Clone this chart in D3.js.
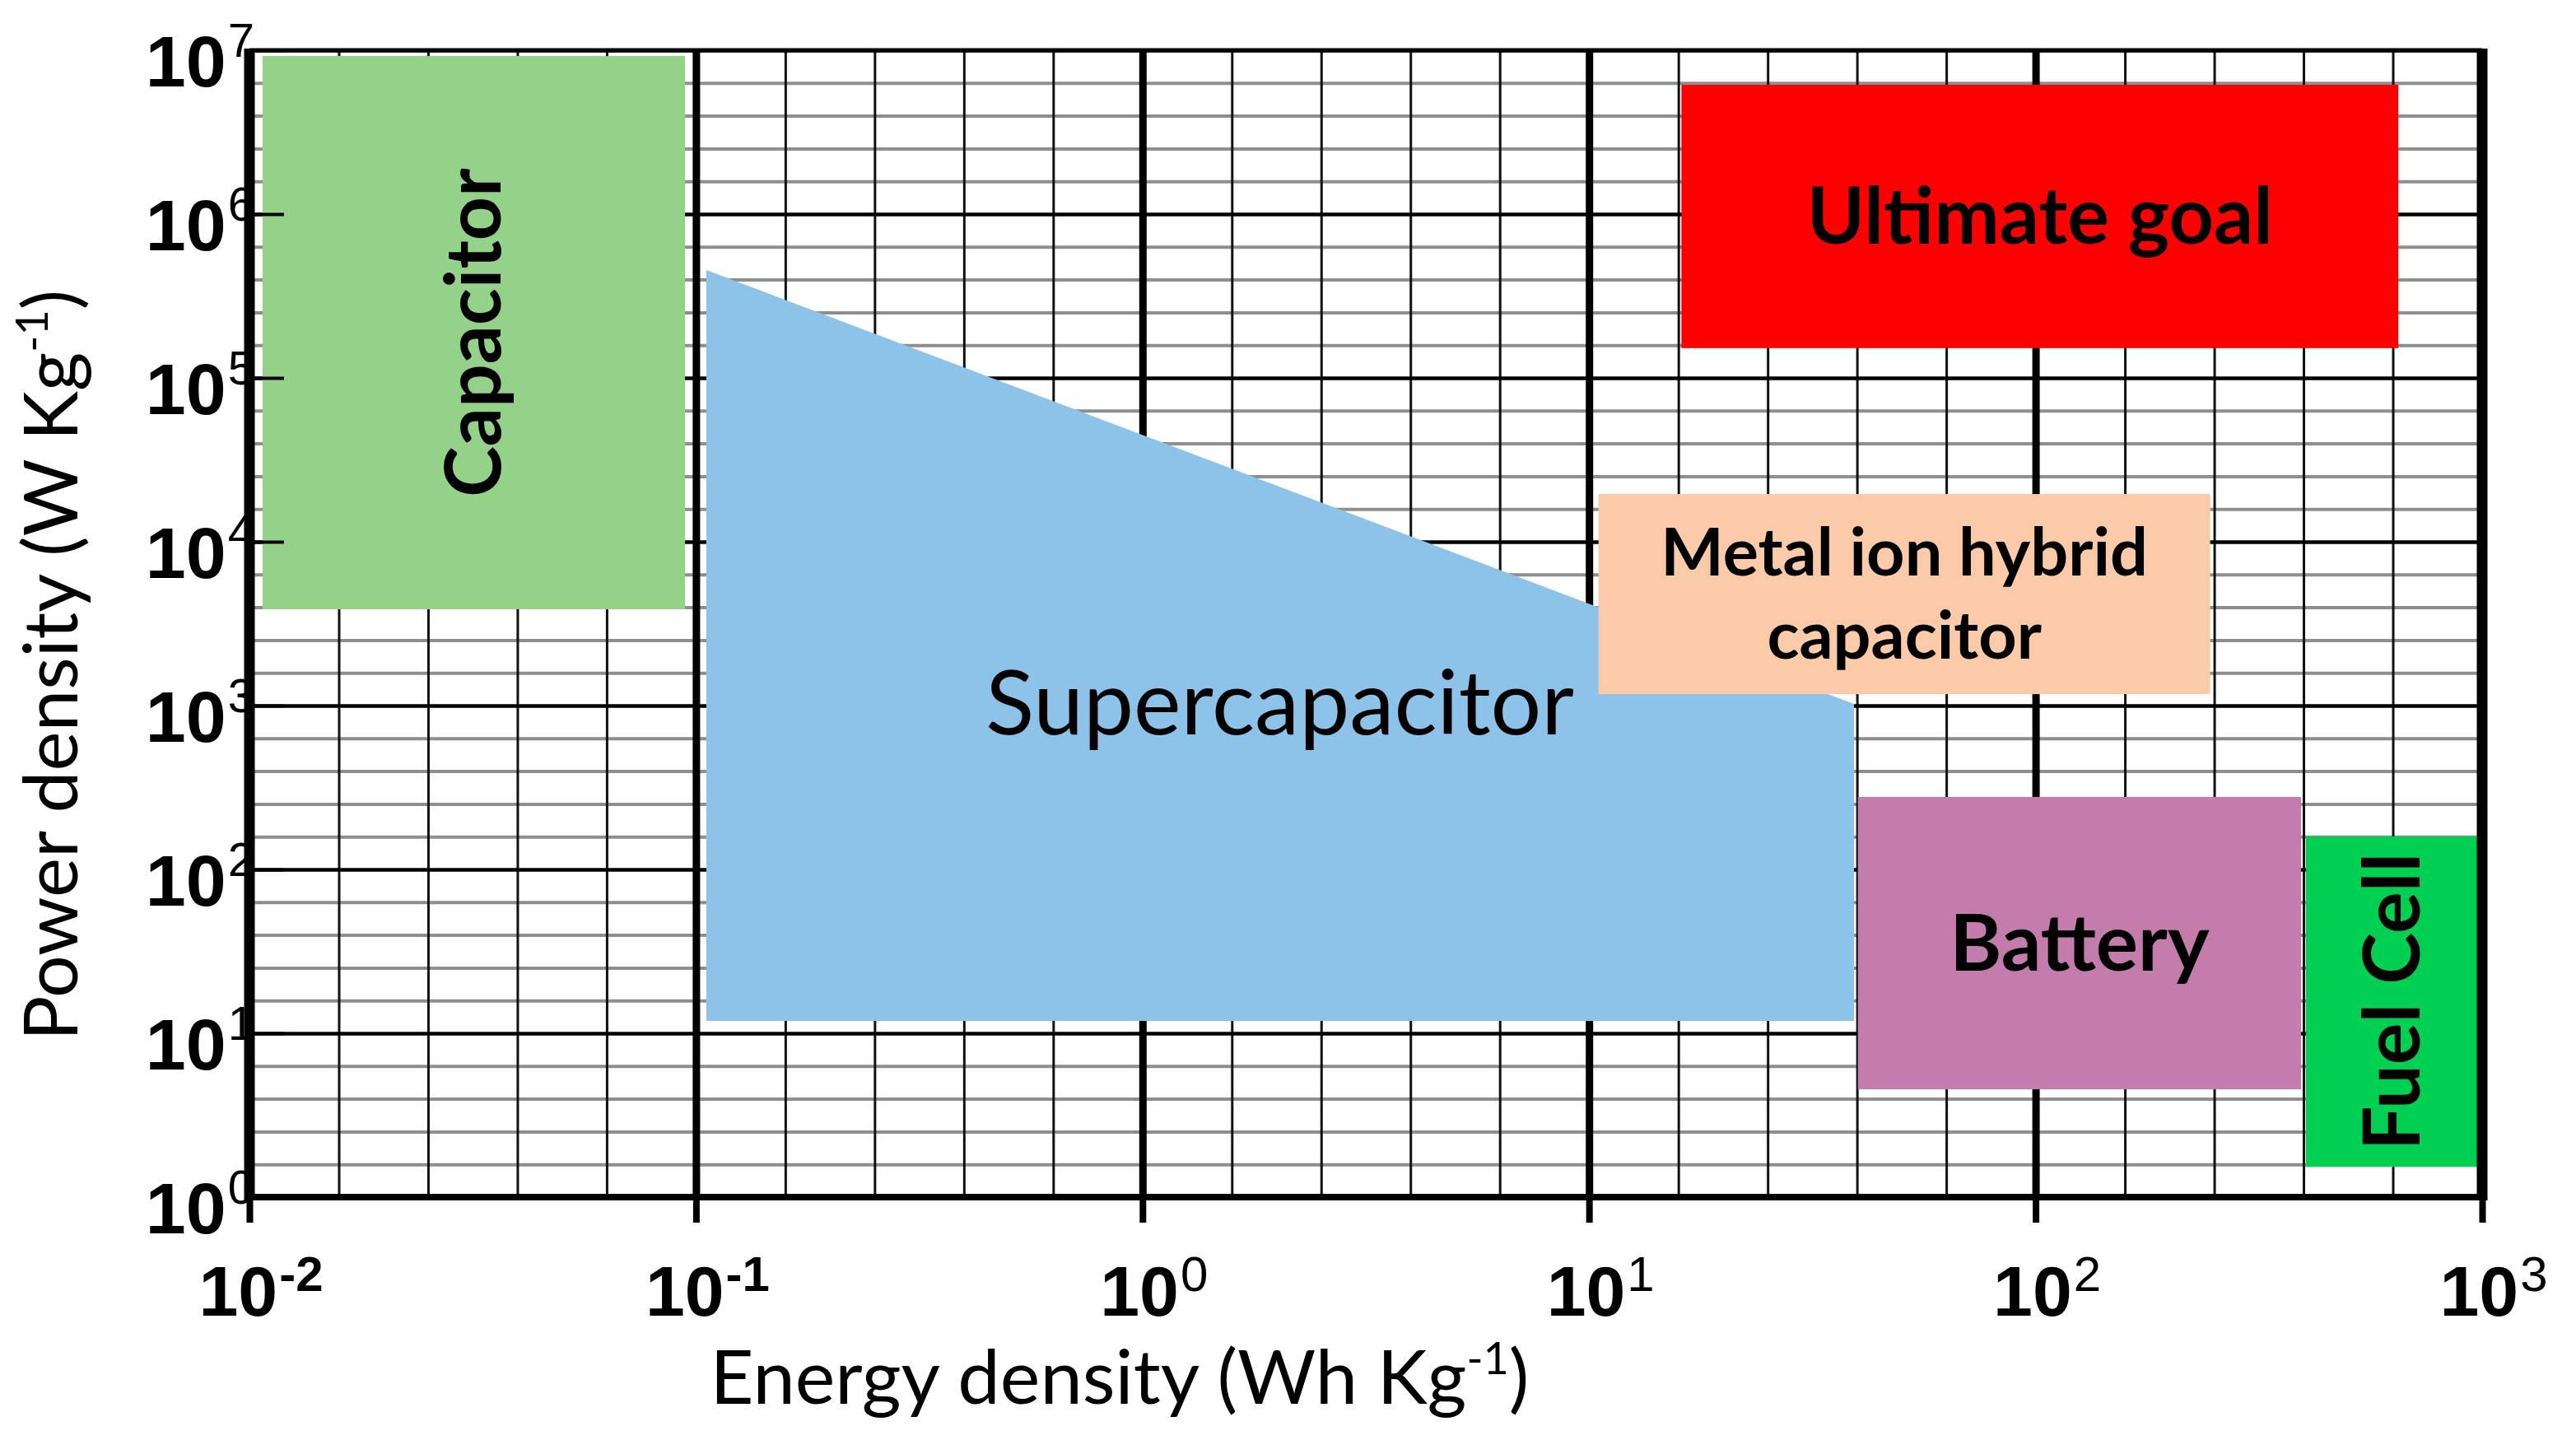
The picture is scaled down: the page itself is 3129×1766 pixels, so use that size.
<!DOCTYPE html>
<html>
<head>
<meta charset="utf-8">
<script src="https://cdn.jsdelivr.net/npm/d3@7"></script>
<style>
  html, body { margin: 0; padding: 0; background: #fff; }
  svg { display: block; }
</style>
</head>
<body>
<script>
///////////////////   Data   /////////////////

// decades shown on each axis (exponents of ten)
var energyExp = [-2, -1, 0, 1, 2, 3];
var powerExp = [0, 1, 2, 3, 4, 5, 6, 7];
var subdivisions = 5;   // each decade is cut in 5 equal parts on the paper

// rectangular regions, Wh/kg and W/kg
var regionNames = ["Capacitor", "Ultimate goal", "Metal ion hybrid capacitor", "Battery", "Fuel Cell"];
var regionLines = [["Capacitor"], ["Ultimate goal"], ["Metal ion hybrid", "capacitor"], ["Battery"], ["Fuel Cell"]];
var energyMin = [0.0107, 16.1, 10.5, 40, 403];
var energyMax = [0.0945, 649, 246, 393, 985];
var powerMin = [3873, 1.52e5, 1175, 4.55, 1.53];
var powerMax = [9.22e6, 6.15e6, 1.955e4, 277, 159];

// supercapacitor region is a polygon
var superEnergy = [0.1055, 39.2, 39.2, 0.1055];
var superPower = [4.55e5, 1023, 11.9, 11.9];
var superLabel = "Supercapacitor";
var superLabelAt = [2.03, 667];

var xTitle = "Energy density (Wh Kg";
var yTitle = "Power density (W Kg";

///////////////////   Styles   /////////////////

var regionColors = ["#94D28A", "#FF0000", "#FBCAA8", "#C47CAC", "#00D052"];
var regionVertical = [true, false, false, false, true];
var regionFont = [93, 95, 81, 96, 95];
var superColor = "#8DC3E8";
var labelFont = "Lato, 'Open Sans', sans-serif";
var tickFont = "'Liberation Sans', Arial, sans-serif";

var W = 3129, H = 1766;
// (window.top is read-only, so the plot edges get their own names)
var plotL = 303, plotR = 3015, plotT = 61, plotB = 1454;

var svg = d3.select("body").append("svg")
    .attr("width", W)
    .attr("height", H);

var x = d3.scaleLog().domain([1e-2, 1e3]).range([plotL, plotR]);
var y = d3.scaleLog().domain([1, 1e7]).range([plotB, plotT]);

function minorValues(exps) {
    var out = [];
    for (var i = 0; i < exps.length - 1; i++)
        for (var k = 1; k < subdivisions; k++)
            out.push(Math.pow(10, exps[i] + k / subdivisions));
    return out;
}
var majorX = energyExp.map(function(e) { return Math.pow(10, e); });
var majorY = powerExp.map(function(e) { return Math.pow(10, e); });

////////////////   Grid   //////////////

function grid(axis, cls, color, width) {
    var g = svg.append("g").attr("class", cls).call(axis);
    g.select(".domain").remove();
    g.selectAll(".tick line").attr("stroke", color).attr("stroke-width", width);
    return g;
}

grid(d3.axisLeft(y).tickValues(minorValues(powerExp)).tickSize(-(plotR - plotL)).tickFormat(""),
     "hminor", "#8e8e8e", 4)
    .attr("transform", "translate(" + plotL + ",0)");

grid(d3.axisBottom(x).tickValues(minorValues(energyExp)).tickSize(-(plotB - plotT)).tickFormat(""),
     "vminor", "#111", 3)
    .attr("transform", "translate(0," + plotB + ")");

grid(d3.axisLeft(y).tickValues(majorY).tickSize(-(plotR - plotL)).tickFormat(""),
     "hmajor", "#000", 4.5)
    .attr("transform", "translate(" + plotL + ",0)");

grid(d3.axisBottom(x).tickValues(majorX).tickSize(-(plotB - plotT)).tickFormat(""),
     "vmajor", "#000", 9)
    .attr("transform", "translate(0," + plotB + ")");

////////////////   Regions   //////////////

svg.append("path")
    .datum(d3.zip(superEnergy, superPower))
    .attr("d", d3.line().x(function(d) { return x(d[0]); }).y(function(d) { return y(d[1]); }).curve(d3.curveLinearClosed))
    .attr("fill", superColor);

svg.append("text")
    .attr("x", x(superLabelAt[0]))
    .attr("y", y(superLabelAt[1]))
    .attr("text-anchor", "middle")
    .style("font-family", labelFont)
    .style("font-size", "109px")
    .style("fill", "#000")
    .text(superLabel);

var regions = svg.selectAll(".region")
    .data(regionNames)
  .enter().append("g")
    .attr("class", "region");

regions.append("rect")
    .attr("x", function(d, i) { return x(energyMin[i]); })
    .attr("y", function(d, i) { return y(powerMax[i]); })
    .attr("width", function(d, i) { return x(energyMax[i]) - x(energyMin[i]); })
    .attr("height", function(d, i) { return y(powerMin[i]) - y(powerMax[i]); })
    .attr("fill", function(d, i) { return regionColors[i]; });

regions.each(function(d, i) {
    var cx = (x(energyMin[i]) + x(energyMax[i])) / 2,
        cy = (y(powerMin[i]) + y(powerMax[i])) / 2,
        size = regionFont[i],
        cap = size * 0.7,
        lh = 101,
        lines = regionLines[i];
    var t = d3.select(this).append("text")
        .attr("text-anchor", "middle")
        .attr("transform", "translate(" + cx + "," + cy + ")" + (regionVertical[i] ? " rotate(-90)" : ""))
        .style("font-family", labelFont)
        .style("font-weight", "bold")
        .style("font-size", size + "px")
        .style("fill", "#000");
    lines.forEach(function(line, j) {
        t.append("tspan")
            .attr("x", 0)
            .attr("y", cap / 2 - (lines.length - 1) * lh / 2 + j * lh)
            .text(line);
    });
});

////////////////   Axes   //////////////

var frame = svg.append("g").attr("class", "frame");
frame.append("line").attr("x1", plotL).attr("x2", plotL).attr("y1", plotT - 2).attr("y2", plotB + 4)
    .attr("stroke", "#000").attr("stroke-width", 13);
frame.append("line").attr("x1", plotR).attr("x2", plotR).attr("y1", plotT - 2).attr("y2", plotB + 4)
    .attr("stroke", "#000").attr("stroke-width", 13);
frame.append("line").attr("x1", plotL).attr("x2", plotR).attr("y1", plotT).attr("y2", plotT)
    .attr("stroke", "#000").attr("stroke-width", 5);
frame.append("line").attr("x1", plotL).attr("x2", plotR).attr("y1", plotB).attr("y2", plotB)
    .attr("stroke", "#000").attr("stroke-width", 8);

// y ticks point into the plot, x ticks point out of it
var yAxis = svg.append("g")
    .attr("transform", "translate(" + (plotL + 6) + ",0)")
    .call(d3.axisRight(y).tickValues(majorY).tickSize(36).tickFormat(""));
yAxis.select(".domain").remove();
yAxis.selectAll(".tick line").attr("stroke", "#000").attr("stroke-width", 4);

var xAxis = svg.append("g")
    .attr("transform", "translate(0," + plotB + ")")
    .call(d3.axisBottom(x).tickValues(majorX).tickSize(31).tickFormat(""));
xAxis.select(".domain").remove();
xAxis.selectAll(".tick line").attr("stroke", "#000").attr("stroke-width", 8);

function power(sel, base, sup, supSize, rise, supWeight) {
    sel.append("tspan").text(base);
    sel.append("tspan")
        .attr("dy", -rise)
        .attr("dx", 2)
        .style("font-size", supSize + "px")
        .style("font-weight", supWeight)
        .text(sup);
}

svg.selectAll(".xlabel")
    .data(energyExp)
  .enter().append("text")
    .attr("class", "xlabel")
    .attr("x", function(e) { return x(Math.pow(10, e)) + 14; })
    .attr("y", 1598)
    .attr("text-anchor", "middle")
    .style("font-family", tickFont)
    .style("font-weight", "bold")
    .style("font-size", "86px")
    .each(function(e) {
        power(d3.select(this), "10", e < 0 ? "-" + (-e) : String(e), 60, 30, e < 0 ? "bold" : "normal");
    });

svg.selectAll(".ylabel")
    .data(powerExp)
  .enter().append("text")
    .attr("class", "ylabel")
    .attr("x", 309)
    .attr("y", function(e) { return y(Math.pow(10, e)) + 44; })
    .attr("text-anchor", "end")
    .style("font-family", tickFont)
    .style("font-weight", "bold")
    .style("font-size", "88px")
    .each(function(e) {
        power(d3.select(this), "10", String(e), 58, 36, "normal");
    });

////////////////   Titles   //////////////

var xt = svg.append("text")
    .attr("x", 1360)
    .attr("y", 1705)
    .attr("text-anchor", "middle")
    .style("font-family", labelFont)
    .style("font-size", "92px");
xt.append("tspan").text(xTitle);
xt.append("tspan").attr("dy", -36).style("font-size", "54px").text("-1");
xt.append("tspan").attr("dy", 36).text(")");

var yt = svg.append("text")
    .attr("transform", "translate(94,808) rotate(-90)")
    .attr("text-anchor", "middle")
    .style("font-family", labelFont)
    .style("font-size", "91px");
yt.append("tspan").text(yTitle);
yt.append("tspan").attr("dy", -36).style("font-size", "54px").text("-1");
yt.append("tspan").attr("dy", 36).text(")");
</script>
</body>
</html>
